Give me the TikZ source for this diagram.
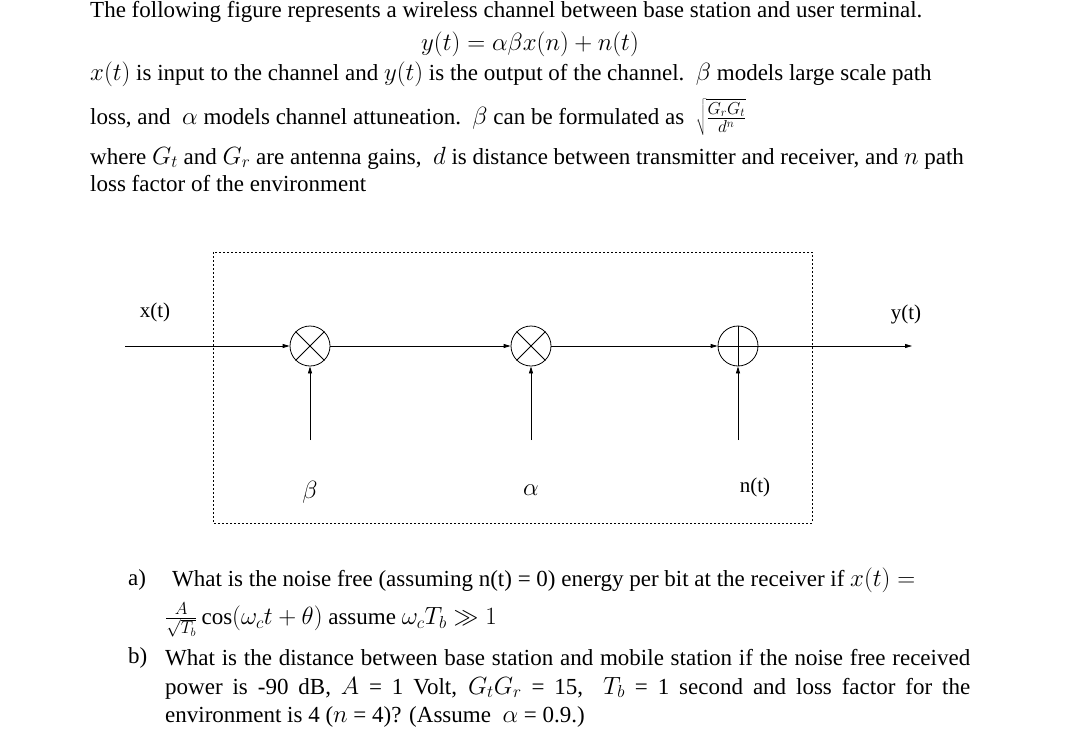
\documentclass[tikz,border=0pt]{standalone}
\usepackage{fontspec}
\setmainfont{Liberation Serif}
\usetikzlibrary{arrows.meta}
\begin{document}
\begin{tikzpicture}[x=1pt,y=-1pt,
  txt/.style={anchor=west,inner sep=0,font=\fontsize{23}{27}\selectfont},
  lbl/.style={inner sep=0,font=\fontsize{21}{24}\selectfont},
  op/.style={draw,circle,minimum size=40pt,inner sep=0,line width=0.8pt},
  sig/.style={line width=0.8pt,-{Triangle[length=7pt,width=4pt]}},
  sl/.style={line width=0.8pt}]
\useasboundingbox (0,0) rectangle (1074,747);
\node[txt] (l1) at (90,12) {The following figure represents a wireless channel between base station and user terminal.};
\node[txt,anchor=center] (eq) at (530,44) {\fontsize{30}{32}\selectfont$y(t)=\alpha\beta x(n)+n(t)$};
\node[txt] (l3) at (90,74) {$x(t)$ is input to the channel and $y(t)$ is the output of the channel.\ \ $\beta$ models large scale path};
\node[txt] (l4) at (90,117) {loss, and\ \ $\alpha$ models channel attuneation.\ \ $\beta$ can be formulated as\ \ $\sqrt{\frac{G_rG_t}{d^n}}$};
\node[txt] (l5) at (90,158) {where $G_t$ and $G_r$ are antenna gains,\ \ $d$ is distance between transmitter and receiver, and $n$ path};
\node[txt] (l6) at (90,184) {loss factor of the environment};

\draw[line width=0.5pt,dash pattern=on 2pt off 2pt] (213,252) rectangle (812,523);
\node[op] (m1) at (310,346) {};
\draw[sl] (m1.north west)--(m1.south east) (m1.north east)--(m1.south west);
\node[op] (m2) at (531,346) {};
\draw[sl] (m2.north west)--(m2.south east) (m2.north east)--(m2.south west);
\node[op] (ad) at (738,346) {};
\draw[sl] (ad.north)--(ad.south) (ad.west)--(ad.east);
\coordinate (in) at (125,346);
\coordinate (out) at (912,346);
\coordinate (b0) at (310,440);
\coordinate (a0) at (531,440);
\coordinate (n0) at (738,440);
\draw[sig] (in)--(m1);
\draw[sig] (m1)--(m2);
\draw[sig] (m2)--(ad);
\draw[sig] (ad)--(out);
\draw[sig] (b0)--(m1);
\draw[sig] (a0)--(m2);
\draw[sig] (n0)--(ad);
\node[lbl] (xl) at (155,312) {x(t)};
\node[lbl] (yl) at (906,314) {y(t)};
\node[lbl] (bl) at (310,492) {\fontsize{24}{26}\selectfont$\beta$};
\node[lbl] (al) at (531,490) {\fontsize{24}{26}\selectfont$\alpha$};
\node[lbl] (nl) at (755,487) {n(t)};

\node[txt] (qa) at (128,580) {a)};
\node[txt] (qa1) at (172,580) {What is the noise free (assuming n(t) = 0) energy per bit at the receiver if $x(t)=$};
\node[txt] (qa2) at (165,620) {$\frac{A}{\sqrt{T_b}}\cos(\omega_c t+\theta)$ assume $\omega_cT_b\gg 1$};
\node[txt] (qb) at (128,658) {b)};
\node[txt] (qb1) at (165,658) {\makebox[805pt][s]{What is the distance between base station and mobile station if the noise free received}};
\node[txt] (qb2) at (165,688) {\makebox[805pt][s]{power is -90 dB, $A$ = 1 Volt, $G_tG_r$ = 15,\ \ $T_b$ = 1 second and loss factor for the}};
\node[txt] (qb3) at (165,717) {environment is 4 ($n$ = 4)? (Assume\ \ $\alpha$ = 0.9.)};
\end{tikzpicture}
\end{document}
